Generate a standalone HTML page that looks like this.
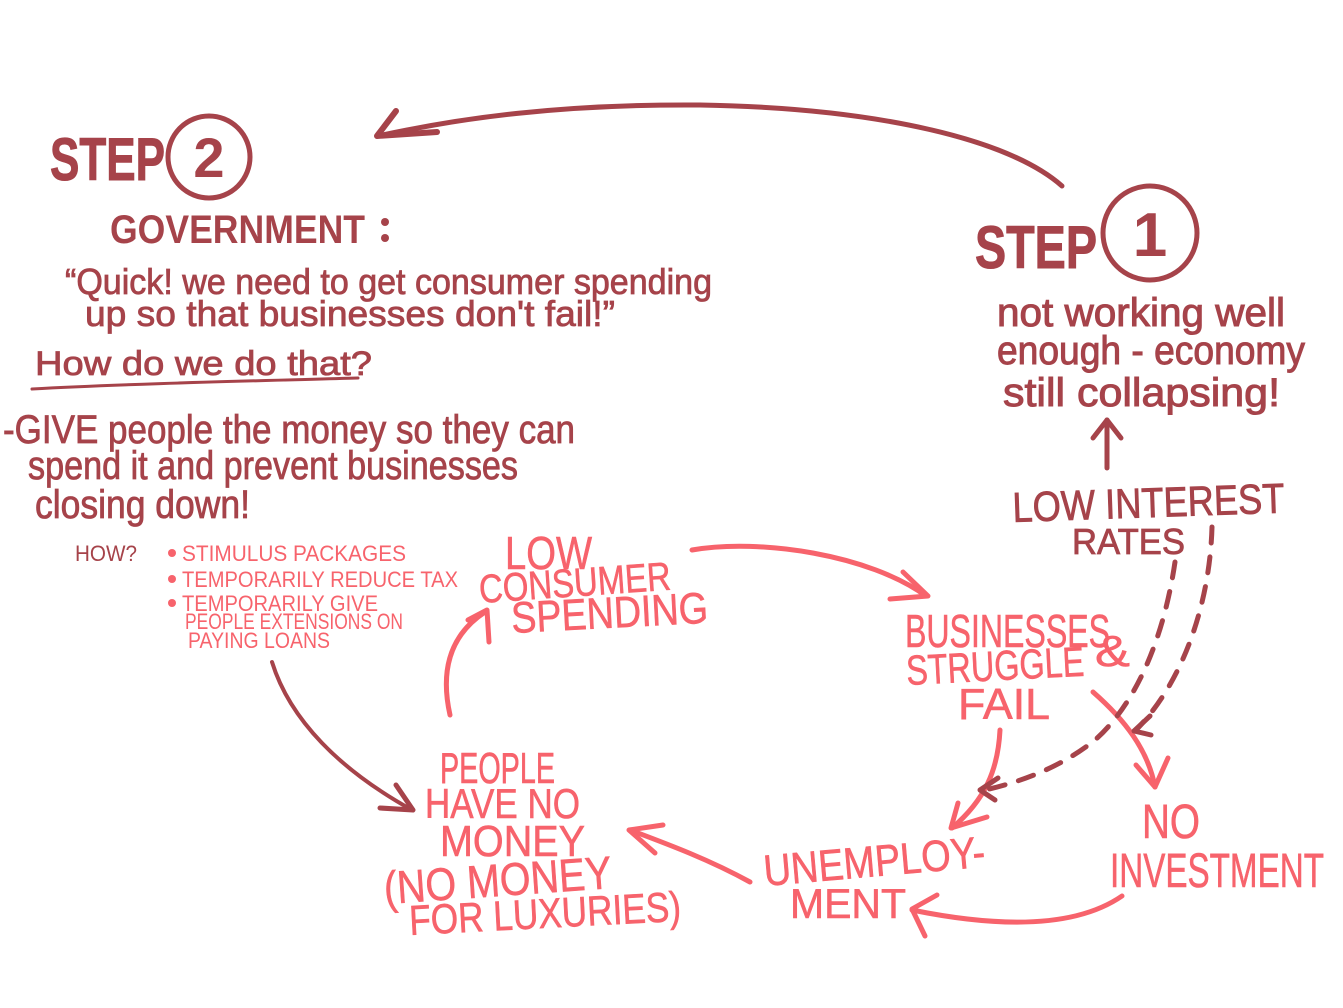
<!DOCTYPE html>
<html><head><meta charset="utf-8"><style>
html,body{margin:0;padding:0;background:#fff;}
svg{display:block;}
.d{fill:#a6434a;font-family:"Liberation Sans",sans-serif;}
.l{fill:#f7636c;font-family:"Liberation Sans",sans-serif;}
.dk{fill:none;stroke:#a6434a;stroke-linecap:round;stroke-linejoin:round;}
.lt{fill:none;stroke:#f7636c;stroke-linecap:round;stroke-linejoin:round;}
</style></head><body>
<svg width="1343" height="1008" viewBox="0 0 1343 1008" xmlns="http://www.w3.org/2000/svg">
<rect width="1343" height="1008" fill="#fff"/>

<!-- top arrow -->
<path class="dk" stroke-width="5" d="M1062,186 C1010,140 880,108 700,105 C560,104 460,118 378,136"/>
<path class="dk" stroke-width="6" d="M396,111 L377,136 L437,132"/>

<!-- STEP 2 -->
<text class="d" x="50" y="180" font-size="60" font-weight="bold" textLength="115" lengthAdjust="spacingAndGlyphs" stroke="#a6434a" stroke-width="1">STEP</text>
<circle class="dk" cx="209" cy="157" r="41" stroke-width="5"/>
<text class="d" x="209" y="177" font-size="56" font-weight="bold" text-anchor="middle">2</text>

<text class="d" x="110" y="243" font-size="40" font-weight="bold" textLength="255" lengthAdjust="spacingAndGlyphs">GOVERNMENT</text>
<circle cx="385" cy="222" r="4" fill="#a6434a"/><circle cx="385" cy="238" r="4" fill="#a6434a"/>

<g stroke="#a6434a" stroke-width="0.8">
<text class="d" x="65" y="294" font-size="36" textLength="647" lengthAdjust="spacingAndGlyphs">“Quick! we need to get consumer spending</text>
<text class="d" x="85" y="326" font-size="36" textLength="530" lengthAdjust="spacingAndGlyphs">up so that businesses don't fail!”</text>

<text class="d" x="35" y="375" font-size="34" textLength="337" lengthAdjust="spacingAndGlyphs">How do we do that?</text>

<text class="d" x="3" y="443" font-size="40" textLength="572" lengthAdjust="spacingAndGlyphs">-GIVE people the money so they can</text>
<text class="d" x="28" y="479" font-size="40" textLength="490" lengthAdjust="spacingAndGlyphs">spend it and prevent businesses</text>
<text class="d" x="35" y="518" font-size="40" textLength="215" lengthAdjust="spacingAndGlyphs">closing down!</text>
</g>
<path class="dk" stroke-width="3" d="M32,389 C120,384 250,381 358,378"/>
<text class="d" x="75" y="561" font-size="22" textLength="62" lengthAdjust="spacingAndGlyphs">HOW?</text>

<!-- bullets -->
<circle cx="172" cy="553" r="4" fill="#f7636c"/>
<text class="l" x="182" y="561" font-size="22" textLength="224" lengthAdjust="spacingAndGlyphs">STIMULUS PACKAGES</text>
<circle cx="172" cy="579" r="4" fill="#f7636c"/>
<text class="l" x="182" y="587" font-size="22" textLength="276" lengthAdjust="spacingAndGlyphs">TEMPORARILY REDUCE TAX</text>
<circle cx="172" cy="603" r="4" fill="#f7636c"/>
<text class="l" x="182" y="611" font-size="22" textLength="196" lengthAdjust="spacingAndGlyphs">TEMPORARILY GIVE</text>
<text class="l" x="185" y="629" font-size="22" textLength="218" lengthAdjust="spacingAndGlyphs">PEOPLE EXTENSIONS ON</text>
<text class="l" x="188" y="648" font-size="22" textLength="142" lengthAdjust="spacingAndGlyphs">PAYING LOANS</text>

<!-- dark arrow to people -->
<path class="dk" stroke-width="4" d="M272,662 C290,720 340,770 412,810"/>
<path class="dk" stroke-width="5" d="M396,785 L413,810 L380,808"/>

<!-- LOW CONSUMER SPENDING -->
<g stroke="#f7636c" stroke-width="0.6">
<text class="l" x="505" y="569" font-size="46" textLength="87" lengthAdjust="spacingAndGlyphs">LOW</text>
<text class="l" x="480" y="603" font-size="40" textLength="192" lengthAdjust="spacingAndGlyphs" transform="rotate(-4 480 603)">CONSUMER</text>
<text class="l" x="512" y="633" font-size="44" textLength="197" lengthAdjust="spacingAndGlyphs" transform="rotate(-3 512 633)">SPENDING</text>
</g>

<!-- people -> low consumer arrow -->
<path class="lt" stroke-width="5" d="M450,715 C440,670 450,635 485,612"/>
<path class="lt" stroke-width="5" d="M468,620 L487,610 L489,642"/>

<!-- low consumer -> businesses -->
<path class="lt" stroke-width="5" d="M692,550 C760,538 870,555 926,596"/>
<path class="lt" stroke-width="5" d="M903,572 L928,596 L890,599"/>

<!-- BUSINESSES STRUGGLE & FAIL -->
<g stroke="#f7636c" stroke-width="0.6">
<text class="l" x="905" y="647" font-size="46" textLength="205" lengthAdjust="spacingAndGlyphs">BUSINESSES</text>
<text class="l" x="907" y="685" font-size="42" textLength="178" lengthAdjust="spacingAndGlyphs" transform="rotate(-3 907 685)">STRUGGLE</text>
<text class="l" x="1095" y="666" font-size="44" textLength="35" lengthAdjust="spacingAndGlyphs">&amp;</text>
<text class="l" x="958" y="719" font-size="44" textLength="92" lengthAdjust="spacingAndGlyphs">FAIL</text>
</g>

<!-- FAIL -> unemployment -->
<path class="lt" stroke-width="5" d="M1000,730 C998,770 985,800 952,828"/>
<path class="lt" stroke-width="5" d="M958,803 L951,828 L987,817"/>

<!-- businesses -> no investment -->
<path class="lt" stroke-width="5" d="M1093,692 C1125,720 1148,750 1155,787"/>
<path class="lt" stroke-width="5" d="M1136,765 L1155,787 L1168,758"/>

<!-- dashed lines -->
<path class="dk" stroke-width="5" stroke-dasharray="16,14" d="M1175,562 C1165,630 1140,700 1095,740 C1060,768 1020,782 985,790"/>
<path class="dk" stroke-width="5" d="M998,778 L980,790 L995,800"/>
<path class="dk" stroke-width="5" stroke-dasharray="16,14" d="M1212,527 C1210,600 1185,680 1136,730"/>
<path class="dk" stroke-width="5" d="M1150,716 L1134,731 L1151,735"/>

<!-- NO INVESTMENT -->
<g stroke="#f7636c" stroke-width="0.6">
<text class="l" x="1142" y="838" font-size="48" textLength="58" lengthAdjust="spacingAndGlyphs">NO</text>
<text class="l" x="1110" y="887" font-size="48" textLength="214" lengthAdjust="spacingAndGlyphs">INVESTMENT</text>
</g>

<!-- investment -> unemployment -->
<path class="lt" stroke-width="5" d="M1122,896 C1080,925 1010,930 912,910"/>
<path class="lt" stroke-width="5" d="M937,895 L912,909 L925,936"/>

<!-- UNEMPLOYMENT -->
<g stroke="#f7636c" stroke-width="0.6">
<text class="l" x="765" y="886" font-size="44" textLength="222" lengthAdjust="spacingAndGlyphs" transform="rotate(-5 765 886)">UNEMPLOY-</text>
<text class="l" x="790" y="918" font-size="42" textLength="116" lengthAdjust="spacingAndGlyphs">MENT</text>
</g>

<!-- unemployment -> people -->
<path class="lt" stroke-width="5" d="M750,882 C710,860 670,845 630,830"/>
<path class="lt" stroke-width="5" d="M663,825 L629,830 L655,853"/>

<!-- PEOPLE HAVE NO MONEY -->
<g stroke="#f7636c" stroke-width="0.6">
<text class="l" x="440" y="783" font-size="44" textLength="115" lengthAdjust="spacingAndGlyphs">PEOPLE</text>
<text class="l" x="425" y="818" font-size="42" textLength="155" lengthAdjust="spacingAndGlyphs">HAVE NO</text>
<text class="l" x="440" y="856" font-size="44" textLength="145" lengthAdjust="spacingAndGlyphs">MONEY</text>
<text class="l" x="385" y="904" font-size="46" textLength="228" lengthAdjust="spacingAndGlyphs" transform="rotate(-4 385 904)">(NO MONEY</text>
<text class="l" x="410" y="935" font-size="42" textLength="272" lengthAdjust="spacingAndGlyphs" transform="rotate(-3 410 935)">FOR LUXURIES)</text>
</g>

<!-- STEP 1 -->
<text class="d" x="975" y="268" font-size="60" font-weight="bold" textLength="122" lengthAdjust="spacingAndGlyphs" stroke="#a6434a" stroke-width="1">STEP</text>
<circle class="dk" cx="1150" cy="233" r="47" stroke-width="5"/>
<text class="d" x="1150" y="256" font-size="62" font-weight="bold" text-anchor="middle">1</text>

<g stroke="#a6434a" stroke-width="1">
<text class="d" x="997" y="326" font-size="40" textLength="288" lengthAdjust="spacingAndGlyphs">not working well</text>
<text class="d" x="997" y="364" font-size="40" textLength="308" lengthAdjust="spacingAndGlyphs">enough - economy</text>
<text class="d" x="1003" y="406" font-size="40" textLength="277" lengthAdjust="spacingAndGlyphs">still collapsing!</text>
</g>

<!-- up arrow -->
<path class="dk" stroke-width="5" d="M1107,468 L1107,420"/>
<path class="dk" stroke-width="5" d="M1093,438 L1107,420 L1121,438"/>

<g stroke="#a6434a" stroke-width="0.8">
<text class="d" x="1013" y="522" font-size="42" textLength="272" lengthAdjust="spacingAndGlyphs" transform="rotate(-2 1013 522)">LOW INTEREST</text>
<text class="d" x="1072" y="554" font-size="36" textLength="113" lengthAdjust="spacingAndGlyphs">RATES</text>
</g>
</svg>
</body></html>
